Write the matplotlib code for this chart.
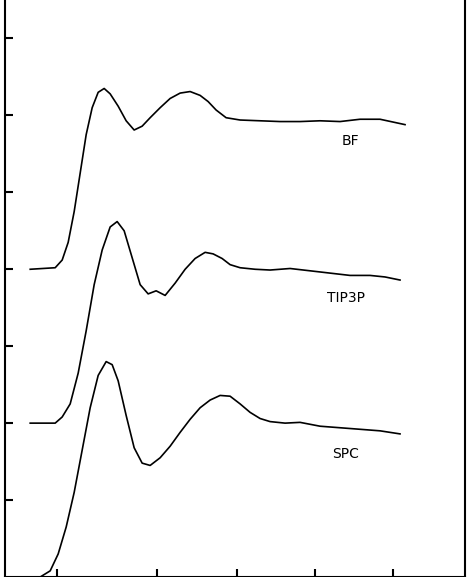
import matplotlib
matplotlib.use("Agg")
import matplotlib.pyplot as plt

bf_x = [0.30,0.55,0.62,0.68,0.74,0.80,0.86,0.92,0.98,1.04,1.10,1.18,1.26,1.34,1.42,1.50,1.60,1.70,1.80,1.90,2.00,2.08,2.16,2.26,2.40,2.60,2.80,3.00,3.20,3.40,3.60,3.80,4.05]
bf_y = [4.00,4.02,4.12,4.35,4.75,5.25,5.75,6.10,6.30,6.35,6.28,6.12,5.93,5.81,5.86,5.97,6.10,6.22,6.29,6.31,6.26,6.18,6.07,5.97,5.94,5.93,5.92,5.92,5.93,5.92,5.95,5.95,5.88]
tip_x = [0.30,0.55,0.62,0.70,0.78,0.86,0.94,1.02,1.10,1.17,1.24,1.32,1.40,1.48,1.56,1.65,1.75,1.85,1.95,2.05,2.13,2.22,2.30,2.40,2.55,2.70,2.90,3.10,3.30,3.50,3.70,3.85,4.00]
tip_y = [2.00,2.00,2.08,2.25,2.65,3.20,3.80,4.25,4.55,4.62,4.50,4.15,3.80,3.68,3.72,3.66,3.82,4.00,4.14,4.22,4.20,4.14,4.06,4.02,4.00,3.99,4.01,3.98,3.95,3.92,3.92,3.90,3.86]
spc_x = [0.40,0.50,0.58,0.66,0.74,0.82,0.90,0.98,1.06,1.12,1.18,1.26,1.34,1.42,1.50,1.60,1.70,1.80,1.90,2.00,2.10,2.20,2.30,2.40,2.50,2.60,2.70,2.85,3.00,3.20,3.40,3.60,3.80,4.00]
spc_y = [0.00,0.08,0.30,0.65,1.10,1.65,2.20,2.62,2.80,2.76,2.55,2.10,1.68,1.48,1.45,1.55,1.70,1.88,2.05,2.20,2.30,2.36,2.35,2.25,2.14,2.06,2.02,2.00,2.01,1.96,1.94,1.92,1.90,1.86]
labels = ["BF", "TIP3P", "SPC"]

fig = plt.figure(figsize=(4.74, 5.77), dpi=100)
ax = fig.add_axes([0.011, 0.0, 0.970, 1.0])
for x, y in [(bf_x, bf_y), (tip_x, tip_y), (spc_x, spc_y)]:
    ax.plot(x, y, color="black", lw=1.2)
ax.text(3.42, 5.62, labels[0], fontsize=10, family="Liberation Sans Narrow")
ax.text(3.27, 3.58, labels[1], fontsize=10, family="Liberation Sans Narrow")
ax.text(3.32, 1.55, labels[2], fontsize=10, family="Liberation Sans Narrow")
ax.set_xlim(0.05, 4.65)
ax.set_ylim(0, 7.5)
ax.set_yticks([1, 2, 3, 4, 5, 6, 7])
ax.set_xticks([0.57, 1.57, 2.37, 3.15, 3.93])
ax.tick_params(direction="in", length=6, width=1.5, labelleft=False, labelbottom=False)
ax.spines["top"].set_visible(False)
for s in ax.spines.values():
    s.set_linewidth(1.5)
fig.savefig("out.png", dpi=100)
